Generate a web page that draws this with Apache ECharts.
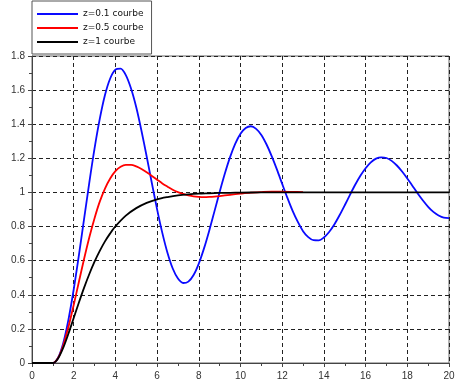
<!DOCTYPE html>
<html>
<head>
<meta charset="utf-8">
<script src="https://cdn.jsdelivr.net/npm/echarts@6/dist/echarts.min.js"></script>
<style>
html,body{margin:0;padding:0;background:#fff;}
#chart{width:474px;height:391px;}
</style>
</head>
<body>
<div id="chart"></div>
<script>
// step responses
var seriesNames = ["z=0.1 courbe", "z=0.5 courbe", "z=1 courbe"];

var tBlue = [0, 0.5, 1, 1.25, 1.5, 1.75, 2, 2.25, 2.5, 2.75, 3, 3.25, 3.5, 3.75, 4, 4.25, 4.5, 4.75, 5, 5.25, 5.5, 5.75, 6, 6.25, 6.5, 6.75, 7, 7.25, 7.5, 7.75, 8, 8.25, 8.5, 8.75, 9, 9.25, 9.5, 9.75, 10, 10.25, 10.5, 10.75, 11, 11.25, 11.5, 11.75, 12, 12.25, 12.5, 12.75, 13, 13.25, 13.5, 13.75, 14, 14.25, 14.5, 14.75, 15, 15.25, 15.5, 15.75, 16, 16.25, 16.5, 16.75, 17, 17.25, 17.5, 17.75, 18, 18.25, 18.5, 18.75, 19, 19.25, 19.5, 19.75, 20];
var yBlue = [0, 0, 0, 0.031, 0.118, 0.256, 0.431, 0.633, 0.846, 1.059, 1.258, 1.431, 1.571, 1.668, 1.720, 1.726, 1.688, 1.609, 1.499, 1.362, 1.211, 1.054, 0.901, 0.763, 0.645, 0.554, 0.495, 0.469, 0.477, 0.516, 0.583, 0.672, 0.776, 0.889, 1.003, 1.111, 1.207, 1.286, 1.344, 1.378, 1.388, 1.373, 1.337, 1.281, 1.212, 1.134, 1.050, 0.968, 0.892, 0.827, 0.773, 0.738, 0.720, 0.719, 0.736, 0.768, 0.812, 0.866, 0.925, 0.986, 1.045, 1.098, 1.142, 1.176, 1.198, 1.206, 1.202, 1.185, 1.158, 1.123, 1.082, 1.038, 0.994, 0.953, 0.916, 0.886, 0.865, 0.852, 0.850];

var tRed = [0, 0.5, 1, 1.25, 1.5, 1.75, 2, 2.25, 2.5, 2.75, 3, 3.25, 3.5, 3.75, 4, 4.25, 4.5, 4.75, 5, 5.25, 5.5, 5.75, 6, 6.25, 6.5, 6.75, 7, 7.25, 7.5, 7.75, 8, 8.25, 8.5, 8.75, 9, 9.5, 10, 10.5, 11, 11.5, 12, 12.5, 13];
var yRed = [0, 0, 0, 0.029, 0.104, 0.213, 0.340, 0.476, 0.611, 0.737, 0.849, 0.946, 1.023, 1.082, 1.125, 1.151, 1.162, 1.162, 1.153, 1.138, 1.118, 1.097, 1.075, 1.053, 1.034, 1.016, 1.002, 0.991, 0.983, 0.977, 0.974, 0.973, 0.974, 0.976, 0.979, 0.986, 0.993, 0.999, 1.002, 1.004, 1.004, 1.003, 1.002];

var tBlack = [0, 0.5, 1, 1.25, 1.5, 1.75, 2, 2.25, 2.5, 2.75, 3, 3.25, 3.5, 3.75, 4, 4.5, 5, 5.5, 6, 6.5, 7, 7.5, 8, 8.5, 9, 9.5, 10, 11, 12, 13, 14, 15, 16, 17, 18, 19, 20];
var yBlack = [0, 0, 0, 0.027, 0.090, 0.173, 0.264, 0.355, 0.442, 0.522, 0.594, 0.657, 0.713, 0.760, 0.801, 0.864, 0.908, 0.939, 0.960, 0.973, 0.983, 0.989, 0.993, 0.995, 0.997, 0.998, 0.999, 1, 1, 1, 1, 1, 1, 1, 1, 1, 1];

var colors = ["#0a0aff", "#ff0000", "#000000"];

function zip(xs, ys){
  var out = [];
  for (var i = 0; i < xs.length; i++) out.push([xs[i], ys[i]]);
  return out;
}

var myChart = echarts.init(document.getElementById('chart'));
var font = "'Liberation Sans', Arial, sans-serif";

function mkSeries(name, data, color){
  return {
    name: name,
    type: 'line',
    data: data,
    showSymbol: false,
    smooth: 0.3,
    lineStyle: {color: color, width: 1.8},
    itemStyle: {color: color},
    animation: false
  };
}

var option = {
  animation: false,
  grid: {left: 32, right: 25, top: 56, bottom: 28, show: true, borderColor: '#666', borderWidth: 1, backgroundColor: '#fff'},
  legend: {
    orient: 'vertical',
    left: 32, top: 1,
    icon: 'rect',
    itemWidth: 41, itemHeight: 2,
    itemGap: 4,
    padding: [8, 8, 7, 5],
    backgroundColor: '#fff',
    borderColor: '#555', borderWidth: 1,
    textStyle: {fontSize: 9, fontFamily: "'DejaVu Sans', sans-serif", color: '#111', lineHeight: 10},
    data: seriesNames
  },
  xAxis: {
    type: 'value', min: 0, max: 20, interval: 2,
    axisLine: {show: true, lineStyle: {color: '#444'}},
    axisTick: {show: true, length: 4, lineStyle: {color: '#444'}},
    minorTick: {show: true, splitNumber: 2, length: 3, lineStyle: {color: '#444'}},
    axisLabel: {color: '#333', fontSize: 10, fontFamily: font, margin: 8},
    splitLine: {show: true, lineStyle: {color: '#222', type: [4, 3], width: 1}}
  },
  yAxis: {
    type: 'value', min: 0, max: 1.8, interval: 0.2,
    axisLine: {show: true, lineStyle: {color: '#444'}},
    axisTick: {show: true, length: 4, lineStyle: {color: '#444'}},
    minorTick: {show: true, splitNumber: 2, length: 3, lineStyle: {color: '#444'}},
    axisLabel: {color: '#333', fontSize: 10, fontFamily: font, margin: 7,
      formatter: function(v){ return String(Math.round(v * 10) / 10); }},
    splitLine: {show: true, lineStyle: {color: '#222', type: [4, 3], width: 1}}
  },
  series: [
    mkSeries(seriesNames[0], zip(tBlue, yBlue), colors[0]),
    mkSeries(seriesNames[1], zip(tRed, yRed), colors[1]),
    mkSeries(seriesNames[2], zip(tBlack, yBlack), colors[2])
  ]
};
myChart.setOption(option);
</script>
</body>
</html>
